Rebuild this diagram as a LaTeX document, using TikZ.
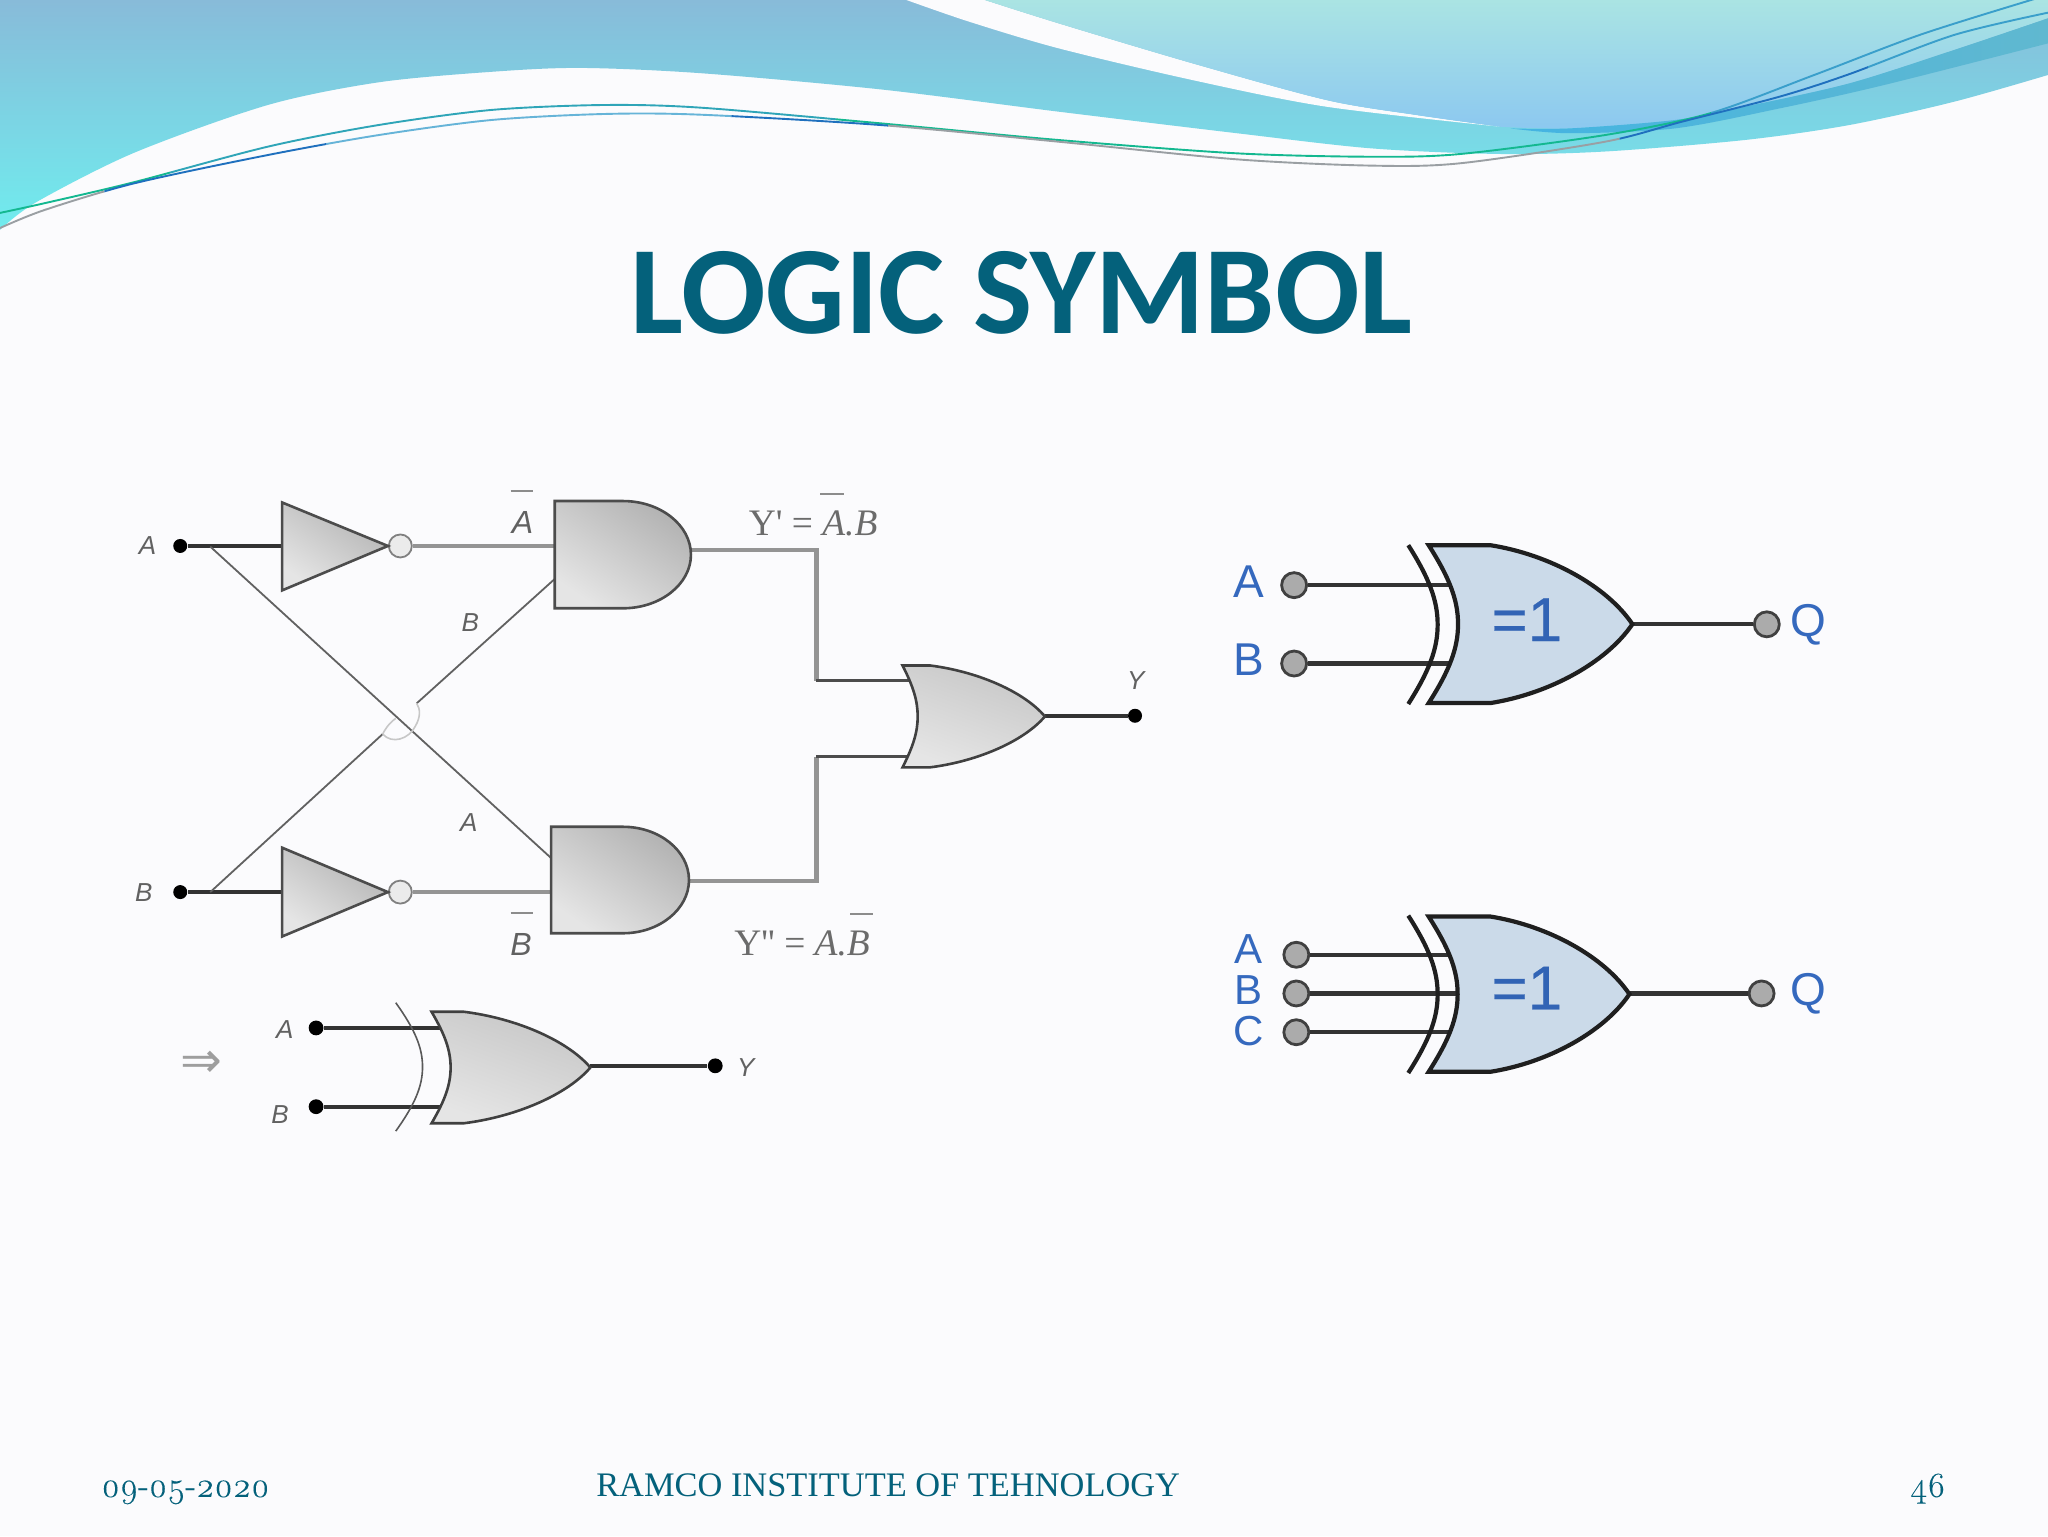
\documentclass[tikz,border=0pt]{standalone}
\usepackage{fontspec}
\setmainfont{Liberation Sans}
\newfontfamily\titlefont{Carlito}
\newfontfamily\serifl{Liberation Serif}
\newfontfamily\footfont[Numbers=OldStyle,FakeBold=0.12]{Latin Modern Roman}
\newfontfamily\onefont[FakeBold=0.5]{Liberation Sans}
\usetikzlibrary{calc}
\definecolor{pagebg}{HTML}{FBFBFD}
\definecolor{titlecol}{HTML}{04617B}
\definecolor{bluetxt}{HTML}{3569BE}
\definecolor{gatefill}{HTML}{CBDAE9}
\definecolor{wavea}{HTML}{88BBD9}
\definecolor{waveb}{HTML}{70ECEE}
\definecolor{lighta}{HTML}{AAE4E3}
\definecolor{lightb}{HTML}{8CC8F0}
\definecolor{bandl}{HTML}{44B4E2}
\definecolor{bandr}{HTML}{60B8D0}
\definecolor{linegreen}{HTML}{14B890}
\definecolor{lineteal}{HTML}{2FA5B8}
\definecolor{lineblue}{HTML}{3A9FCB}
\definecolor{linesky}{HTML}{66B4D8}
\definecolor{linedeep}{HTML}{1F70BE}
\definecolor{linegrey}{HTML}{9A9FA3}
\tikzset{
  wire/.style={draw=black!80,line width=2.1pt},
  greywire/.style={draw=black!42,line width=2.2pt},
  thinwire/.style={draw=black!62,line width=0.9pt},
  dotnode/.style={circle,fill=black,inner sep=0pt,minimum size=7.4pt},
  bubble/.style={circle,draw=black!50,fill=black!8,line width=0.9pt,inner sep=0pt,minimum size=11.5pt},
  termnode/.style={circle,draw=black!75,fill=black!33,line width=1.4pt,inner sep=0pt,minimum size=12.5pt},
  greygate/.style={draw=black!70,line width=1.3pt,shading=axis,left color=black!30,right color=black!10,shading angle=-35},
  orgate/.style={draw=black!75,line width=1.3pt,shading=axis,left color=black!22,right color=black!10,shading angle=-20},
  bluegate/.style={draw=black!88,line width=2.1pt,fill=gatefill},
  grylab/.style={text=black!62,font=\itshape\fontsize{13}{13}\selectfont,inner sep=0pt},
  eqlab/.style={text=black!58,font=\serifl\fontsize{18.7}{18.7}\selectfont,inner sep=0pt},
  bluelab/.style={text=bluetxt,font=\fontsize{23}{23}\selectfont,inner sep=0pt},
  eqone/.style={text=bluetxt!95!black,font=\onefont\fontsize{31}{31}\selectfont,inner sep=0pt},
  footlab/.style={text=titlecol,font=\footfont\fontsize{17.6}{17.6}\selectfont,inner sep=0pt,anchor=base},
  footmid/.style={text=titlecol,font=\serifl\fontsize{17.2}{17.2}\selectfont,inner sep=0pt,anchor=base},
  barmark/.style={draw=black!45,line width=0.9pt}
}
% style, xleft, ytop, ybottom, xtip, xback, xstraight
\newcommand{\orshape}[7]{%
  \pgfmathsetmacro{\ym}{(#3+#4)/2}\pgfmathsetmacro{\hh}{(#4-#3)/2}\pgfmathsetmacro{\dx}{#5-#7}\pgfmathsetmacro{\bx}{#6-#2}
  \path[#1] (#2,#3) -- (#7,#3)
    .. controls ({#7+.42*\dx},{#3+.12*\hh}) and ({#7+.82*\dx},{#3+.52*\hh}) .. (#5,\ym)
    .. controls ({#7+.82*\dx},{#4-.52*\hh}) and ({#7+.42*\dx},{#4-.12*\hh}) .. (#7,#4)
    -- (#2,#4)
    .. controls ({#2+.72*\bx},{#4-.42*\hh}) and (#6,{\ym+.3*\hh}) .. (#6,\ym)
    .. controls (#6,{\ym-.3*\hh}) and ({#2+.72*\bx},{#3+.42*\hh}) .. (#2,#3) -- cycle;
}
% style, xend, ytop, ybottom, xmid
\newcommand{\backarc}[5]{%
  \pgfmathsetmacro{\ym}{(#3+#4)/2}\pgfmathsetmacro{\hh}{(#4-#3)/2}\pgfmathsetmacro{\bx}{#5-#2}
  \path[#1] (#2,#3) .. controls ({#2+.72*\bx},{#3+.42*\hh}) and (#5,{\ym-.3*\hh}) .. (#5,\ym)
    .. controls (#5,{\ym+.3*\hh}) and ({#2+.72*\bx},{#4-.42*\hh}) .. (#2,#4);
}
% style, xleft, ytop, ybottom, xstraight, xright
\newcommand{\andshape}[6]{%
  \pgfmathsetmacro{\ym}{(#3+#4)/2}\pgfmathsetmacro{\hh}{(#4-#3)/2}\pgfmathsetmacro{\dx}{#6-#5}
  \path[#1] (#2,#3) -- (#5,#3)
    .. controls ({#5+.55*\dx},#3) and (#6,{\ym-.55*\hh}) .. (#6,\ym)
    .. controls (#6,{\ym+.55*\hh}) and ({#5+.55*\dx},#4) .. (#5,#4)
    -- (#2,#4) -- cycle;
}
\newcommand{\lineA}{plot[smooth,tension=.5] coordinates {(0,163) (34,155.6) (102.6,139.5) (205,112.3) (290,95.7) (376,84.2) (461.5,80.4) (536,82.4) (673.8,94.4) (810.5,107.2) (947,117.4) (1050,120) (1118,117.9) (1228.8,103.4) (1309,86.8) (1389,57.4) (1469.6,26.8) (1555,0) (1590,-10)}}
\newcommand{\lineB}{plot[smooth,tension=.5] coordinates {(0,174.6) (34,160.8) (102.6,140.4) (205,118.7) (290,103.4) (376,91.9) (461.5,87.3) (536,87.8) (673.8,95.7) (810.5,108.5) (947,122) (1050,126.8) (1118,125) (1228.8,108.5) (1287.6,93.2) (1362.5,74) (1416,56.7) (1496,26.8) (1568,9.7)}}
% x1, x2, colour, path
\newcommand{\bandstroke}[4]{\begin{scope}\clip (#1,-5) rectangle (#2,200);\draw[#3,line width=0.95pt] #4;\end{scope}}
\begin{document}
\begin{tikzpicture}[x=0.65306pt,y=-0.65306pt]
\useasboundingbox (0,0) rectangle (1568,1176);
\fill[pagebg] (0,0) rectangle (1568,1176);
% banner
\path[shading=axis,top color=wavea,bottom color=waveb] (0,0) --
  plot[smooth,tension=.5] coordinates {(0,176) (27.4,155) (102.6,117) (205,80.4) (290,63) (376,55) (444,52) (536,56) (673.8,68.4) (810.5,85.5) (947,102) (1050,113.6) (1148.5,117.9) (1228.8,116) (1335.7,107.2) (1416,95.7) (1496,77.9) (1568,57.4)}
  -- (1568,0) -- cycle;
\fill[pagebg] plot[smooth,tension=.5] coordinates {(694,0) (742,16.6) (810.5,37) (913,61.3) (1015.5,81.7) (1148.5,97)}
  -- plot[smooth,tension=.5] coordinates {(1148.5,97) (1084,88) (1015.5,76.6) (913,48.5) (810.5,17.9) (754,0)} -- cycle;
\path[shading=axis,top color=lighta,bottom color=lightb] plot[smooth,tension=.5] coordinates {(754,0) (810.5,17.9) (913,48.5) (1015.5,76.6) (1084,88) (1148.5,97)}
  -- plot[smooth,tension=.5] coordinates {(1148.5,97) (1202,98.3) (1282.3,91.9) (1335.7,81.7) (1416,63.8) (1496,38.3) (1568,14)} -- (1568,0) -- cycle;
\path[shading=axis,left color=bandl,right color=bandr] plot[smooth,tension=.5] coordinates {(1156.5,98.3) (1202,102) (1282.3,98.3) (1362.5,83) (1442.9,65) (1568,33.2)}
  -- plot[smooth,tension=.5] coordinates {(1568,14) (1496,38.3) (1416,63.8) (1335.7,81.7) (1282.3,91.9) (1202,98.3) (1156.5,98.3)} -- cycle;
\bandstroke{-1}{130}{linegreen}{\lineA}
\bandstroke{130}{640}{lineteal}{\lineA}
\bandstroke{640}{1310}{linegreen}{\lineA}
\bandstroke{1310}{1569}{lineblue}{\lineA}
\bandstroke{-1}{80}{linegrey}{\lineB}
\bandstroke{80}{250}{linedeep}{\lineB}
\bandstroke{250}{560}{linesky}{\lineB}
\bandstroke{560}{680}{linedeep}{\lineB}
\bandstroke{680}{1240}{linegrey}{\lineB}
\bandstroke{1240}{1430}{linedeep}{\lineB}
\bandstroke{1430}{1569}{lineblue}{\lineB}
% title
\node[anchor=base,text=titlecol,font=\titlefont\bfseries\fontsize{62.6}{62.6}\selectfont,inner sep=0pt] (title) at (782,255) {LOGIC SYMBOL};
% left circuit: terminals and pins
\node[dotnode,minimum size=7pt] (ina) at (138,418) {};
\node[dotnode,minimum size=7pt] (inb) at (138,683) {};
\node[dotnode,minimum size=7pt] (outy) at (869,548) {};
\coordinate (inva) at (216,418);
\coordinate (invb) at (216,683);
\node[bubble] (bubba) at (306.5,418) {};
\node[bubble] (bubbb) at (306.5,683) {};
\coordinate (anda) at (426,418);
\coordinate (andb) at (424,683);
\coordinate (tapa) at (161,418.5);
\coordinate (tapb) at (161,683);
\coordinate (andadiag) at (425,443);
\coordinate (andbdiag) at (422,657);
\coordinate (hopa) at (293,562);
\coordinate (hopb) at (319,538.5);
\coordinate (andaout) at (529,421);
\coordinate (andbout) at (527,674.5);
\coordinate (corau) at (625,421);
\coordinate (corbu) at (625,674.5);
\coordinate (corad) at (625,521);
\coordinate (corbd) at (625,579.5);
\coordinate (ora) at (697,521);
\coordinate (orb) at (697,579.5);
\coordinate (orout) at (800,548);
\draw[wire] (ina) -- (inva);
\draw[wire] (inb) -- (invb);
\draw[greywire] (bubba) -- (anda);
\draw[greywire] (bubbb) -- (andb);
\draw[thinwire] (tapa) -- (andbdiag);
\draw[thinwire] (tapb) -- (hopa);
\draw[thinwire] (hopb) -- (andadiag);
\draw[draw=black!22,line width=0.8pt] (hopa) .. controls (300,570) and (313,566) .. (318,556) .. controls (322,549) and (322,543) .. (hopb);
\draw[draw=black!22,line width=0.8pt] (hopa) .. controls (296,556) and (300,552) .. (303,550);
\draw[greywire,line join=miter] (andaout) -- (corau) -- (corad);
\draw[greywire,line join=miter] (andbout) -- (corbu) -- (corbd);
\draw[draw=black!70,line width=1.5pt] (corad) -- (ora);
\draw[draw=black!70,line width=1.5pt] (corbd) -- (orb);
\draw[wire] (orout) -- (outy);
\path[greygate] (216,384.7) -- (297,418) -- (216,452) -- cycle;
\path[greygate] (216,649) -- (297,683) -- (216,717) -- cycle;
\andshape{greygate}{424.7}{383.6}{465.7}{477}{529}
\andshape{greygate}{422}{633}{714.5}{477}{527.5}
\orshape{orgate}{691}{509.5}{587.5}{800}{702.6}{712}
% left labels
\node[grylab] (la) at (113,418) {A};
\node[grylab] (lb) at (110,683) {B};
\node[grylab] (ly) at (869.5,521) {Y};
\node[grylab] (lbd) at (360,477) {B};
\node[grylab] (lad) at (359,630) {A};
\node[grylab,font=\itshape\fontsize{16}{16}\selectfont] (labar) at (400,400) {A};
\node[grylab,font=\itshape\fontsize{16}{16}\selectfont] (lbbar) at (399,723) {B};
\draw[barmark] (391,376) -- (408,376);
\draw[barmark] (391,699) -- (408,699);
\node[eqlab,anchor=west] (eqa) at (573,401) {Y' = \textit{A.B}};
\node[eqlab,anchor=west] (eqb) at (562,722.5) {Y'' = \textit{A.B}};
\draw[barmark] (628,378) -- (646,378);
\draw[barmark] (651,699.5) -- (668,699.5);
% lower left gate
\node[dotnode] (ca) at (242,787) {};
\node[dotnode] (cb) at (242,847.3) {};
\node[dotnode] (cy) at (547.6,816) {};
\coordinate (cap) at (339,787);
\coordinate (cbp) at (339,847.3);
\coordinate (cop) at (452,816);
\draw[wire] (ca) -- (cap);
\draw[wire] (cb) -- (cbp);
\draw[wire] (cop) -- (cy);
\backarc{draw=black!65,line width=0.8pt}{303}{767.7}{866}{323.5}
\orshape{orgate}{330.4}{774.6}{860}{452}{345}{355}
\node[grylab] (ca2) at (218,788.5) {A};
\node[grylab] (cb2) at (214.5,853) {B};
\node[grylab] (cy2) at (571,817) {Y};
\node[text=black!38,font=\fontspec{DejaVu Sans}\fontsize{25}{25}\selectfont,inner sep=0pt] (impl) at (154,815) {⇒};
% XOR 1
\node[termnode] (xa1) at (990.8,448) {};
\node[termnode] (xb1) at (990.8,508) {};
\node[termnode] (xq1) at (1352.7,478) {};
\coordinate (xa1p) at (1112,448);
\coordinate (xb1p) at (1112,508);
\coordinate (xo1p) at (1249.8,478);
\draw[wire] (xa1) -- (xa1p);
\draw[wire] (xb1) -- (xb1p);
\draw[wire] (xo1p) -- (xq1);
\backarc{draw=black!88,line width=2.1pt}{1078.2}{417.4}{539}{1100.7}
\orshape{bluegate}{1093.8}{417.4}{538.3}{1249.8}{1116.3}{1141}
\node[eqone] (x1e) at (1169,474.5) {=1};
\node[bluelab] (x1la) at (956,445.5) {A};
\node[bluelab] (x1lb) at (956,505) {B};
\node[bluelab] (x1lq) at (1384.3,478) {Q};
% XOR 2
\node[termnode] (xa2) at (992.5,731) {};
\node[termnode] (xb2) at (992.5,760.6) {};
\node[termnode] (xc2) at (992.5,790.3) {};
\node[termnode] (xq2) at (1348.7,760.6) {};
\coordinate (xa2p) at (1110,731);
\coordinate (xb2p) at (1114.7,760.6);
\coordinate (xc2p) at (1110,790.3);
\coordinate (xo2p) at (1247.5,760.6);
\draw[wire] (xa2) -- (xa2p);
\draw[wire] (xb2) -- (xb2p);
\draw[wire] (xc2) -- (xc2p);
\draw[wire] (xo2p) -- (xq2);
\backarc{draw=black!88,line width=2.1pt}{1078.2}{701}{821.5}{1100.7}
\orshape{bluegate}{1093.8}{701.7}{820.6}{1247.5}{1116}{1141}
\node[eqone] (x2e) at (1169,756.5) {=1};
\node[bluelab,font=\fontsize{21}{21}\selectfont] (x2la) at (956,726.5) {A};
\node[bluelab,font=\fontsize{21}{21}\selectfont] (x2lb) at (956,758) {B};
\node[bluelab,font=\fontsize{21}{21}\selectfont] (x2lc) at (956,789) {C};
\node[bluelab] (x2lq) at (1384.3,761) {Q};
% footer
\node[footlab] (fd) at (142,1146) {09-05-2020};
\node[footmid] (fm) at (680,1146) {RAMCO INSTITUTE OF TEHNOLOGY};
\node[footlab] (fn) at (1476,1146) {46};
\end{tikzpicture}
\end{document}
